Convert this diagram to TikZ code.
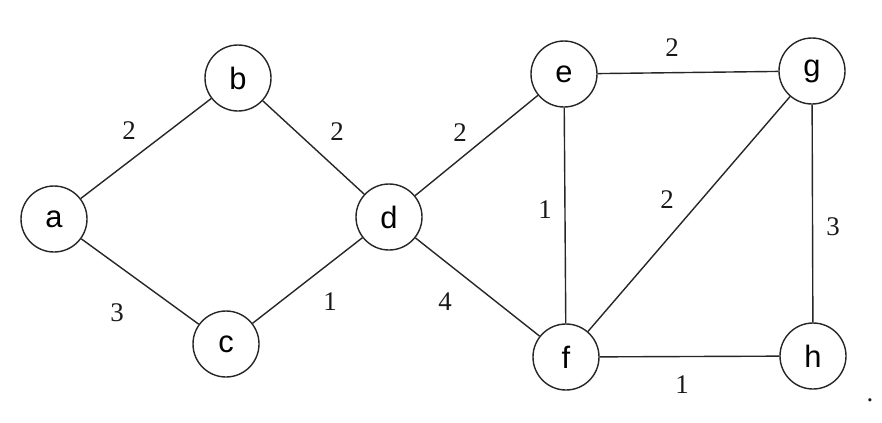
\documentclass[tikz,border=0pt]{standalone}
\usepackage{fontspec}
\setmainfont{Liberation Serif}
\newfontfamily\nodefont{Liberation Sans}
\begin{document}
\begin{tikzpicture}[x=1bp,y=-1bp,
  vertex/.style={circle,draw=black!85,line width=1.4bp,minimum size=66bp,inner sep=0pt,font=\nodefont\fontsize{31}{31}\selectfont},
  edge/.style={draw=black!85,line width=1.4bp},
  wlabel/.style={font=\fontsize{27}{27}\selectfont,inner sep=0pt,text=black!90}]
\useasboundingbox (0,0) rectangle (882,422);
\node[vertex] (a) at (54,219) {a};
\node[vertex] (b) at (238,78) {b};
\node[vertex] (c) at (226,344) {c};
\node[vertex] (d) at (389,217) {d};
\node[vertex] (e) at (564,74) {e};
\node[vertex] (g) at (812,71) {g};
\node[vertex] (f) at (566,357) {f};
\node[vertex] (h) at (813,356) {h};
\draw[edge] (a) -- (b);
\draw[edge] (b) -- (d);
\draw[edge] (a) -- (c);
\draw[edge] (c) -- (d);
\draw[edge] (d) -- (e);
\draw[edge] (d) -- (f);
\draw[edge] (e) -- (g);
\draw[edge] (e) -- (f);
\draw[edge] (f) -- (g);
\draw[edge] (g) -- (h);
\draw[edge] (f) -- (h);
\node[wlabel] (lab) at (129,131) {2};
\node[wlabel] (lbd) at (337,132) {2};
\node[wlabel] (lac) at (117,313) {3};
\node[wlabel] (lcd) at (330,302) {1};
\node[wlabel] (ldf) at (445,302) {4};
\node[wlabel] (lde) at (460,133) {2};
\node[wlabel] (leg) at (672,48) {2};
\node[wlabel] (lef) at (545,210) {1};
\node[wlabel] (lfg) at (667,200) {2};
\node[wlabel] (lgh) at (833,227) {3};
\node[wlabel] (lfh) at (682,385) {1};
\node[wlabel] (dot) at (870,400) {.};
\end{tikzpicture}
\end{document}
